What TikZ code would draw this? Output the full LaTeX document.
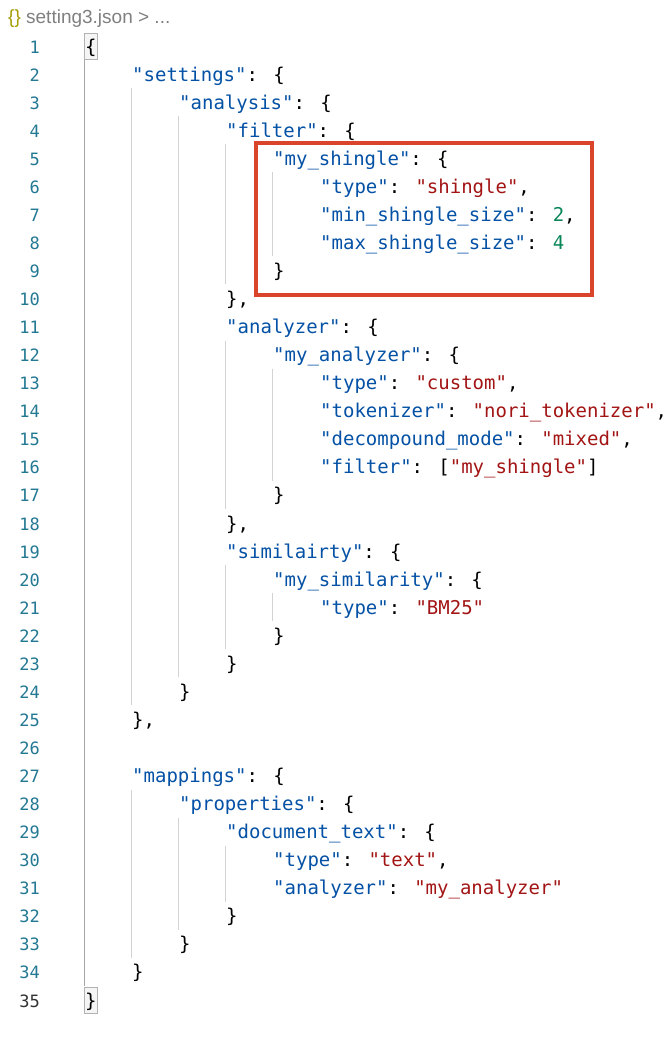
\documentclass[tikz,border=0pt]{standalone}
\usepackage{fontspec}
\newfontfamily\code{DejaVu Sans Mono}
\newfontfamily\ui{Liberation Sans}
\definecolor{kc}{HTML}{0451A5}
\definecolor{sc}{HTML}{A31515}
\definecolor{nc}{HTML}{098658}
\definecolor{lnc}{HTML}{237893}
\definecolor{gd}{HTML}{D3D3D3}
\definecolor{box}{HTML}{D9442B}
\newcommand{\K}[1]{\textcolor{kc}{"#1"}}
\newcommand{\Sv}[1]{\textcolor{sc}{"#1"}}
\newcommand{\Nv}[1]{\textcolor{nc}{#1}}
\newcommand{\LN}[2]{\node[ln] (n#1) at (40,{53+28.06*(#1-1)}) {#1};}
\newcommand{\CL}[3]{\node[cl] (c#1) at ({85+11.75*#2},{53+28.06*(#1-1)}) {#3};}
\newcommand{\GD}[4]{\draw[#4] ({#1},{53+28.06*(#2-1)-21}) -- ({#1},{53+28.06*(#3-1)+7});}
\begin{document}
\begin{tikzpicture}[x=1pt,y=-1pt,
  ln/.style={anchor=base east,inner sep=0,font=\code\fontsize{17}{17}\selectfont,text=lnc},
  cl/.style={anchor=base west,inner sep=0,font=\code\fontsize{19}{19}\selectfont},
  guide/.style={gd,line width=0.8pt},
  guided/.style={gray!70,line width=0.8pt}]
\useasboundingbox (0,0) rectangle (670,1050);
\fill[white] (0,0) rectangle (670,1050);
\node[anchor=base west,inner sep=0,font=\ui\fontsize{19}{19}\selectfont] (hdr) at (8,23) {\textcolor{olive!80!yellow}{\{\}}\ \textcolor{gray}{setting3.json \textgreater\ ...}};
% guides
\GD{84}{2}{34}{guided}
\GD{131}{3}{24}{guide}
\GD{178}{4}{23}{guide}
\GD{225}{5}{9}{guide}
\GD{272}{6}{8}{guide}
\GD{225}{12}{17}{guide}
\GD{272}{13}{16}{guide}
\GD{225}{20}{22}{guide}
\GD{272}{21}{21}{guide}
\GD{131}{28}{33}{guide}
\GD{178}{29}{32}{guide}
\GD{225}{30}{31}{guide}
% bracket match boxes
\draw[gray!60,fill=gray!8] (84,33) rectangle (97,59);
\draw[gray!60,fill=gray!8] (84,987) rectangle (97,1013);
\foreach \i in {1,...,34}{\LN{\i}{}}
\node[ln,text=black!80] (n35) at (40,{53+28.06*34}) {35};
\CL{1}{0}{\{}
\CL{2}{4}{\K{settings}: \{}
\CL{3}{8}{\K{analysis}: \{}
\CL{4}{12}{\K{filter}: \{}
\CL{5}{16}{\K{my\_shingle}: \{}
\CL{6}{20}{\K{type}: \Sv{shingle},}
\CL{7}{20}{\K{min\_shingle\_size}: \Nv{2},}
\CL{8}{20}{\K{max\_shingle\_size}: \Nv{4}}
\CL{9}{16}{\}}
\CL{10}{12}{\},}
\CL{11}{12}{\K{analyzer}: \{}
\CL{12}{16}{\K{my\_analyzer}: \{}
\CL{13}{20}{\K{type}: \Sv{custom},}
\CL{14}{20}{\K{tokenizer}: \Sv{nori\_tokenizer},}
\CL{15}{20}{\K{decompound\_mode}: \Sv{mixed},}
\CL{16}{20}{\K{filter}: [\Sv{my\_shingle}]}
\CL{17}{16}{\}}
\CL{18}{12}{\},}
\CL{19}{12}{\K{similairty}: \{}
\CL{20}{16}{\K{my\_similarity}: \{}
\CL{21}{20}{\K{type}: \Sv{BM25}}
\CL{22}{16}{\}}
\CL{23}{12}{\}}
\CL{24}{8}{\}}
\CL{25}{4}{\},}
\CL{27}{4}{\K{mappings}: \{}
\CL{28}{8}{\K{properties}: \{}
\CL{29}{12}{\K{document\_text}: \{}
\CL{30}{16}{\K{type}: \Sv{text},}
\CL{31}{16}{\K{analyzer}: \Sv{my\_analyzer}}
\CL{32}{12}{\}}
\CL{33}{8}{\}}
\CL{34}{4}{\}}
\CL{35}{0}{\}}
\draw[box,line width=4pt] (256,143) rectangle (592,295);
\end{tikzpicture}
\end{document}
